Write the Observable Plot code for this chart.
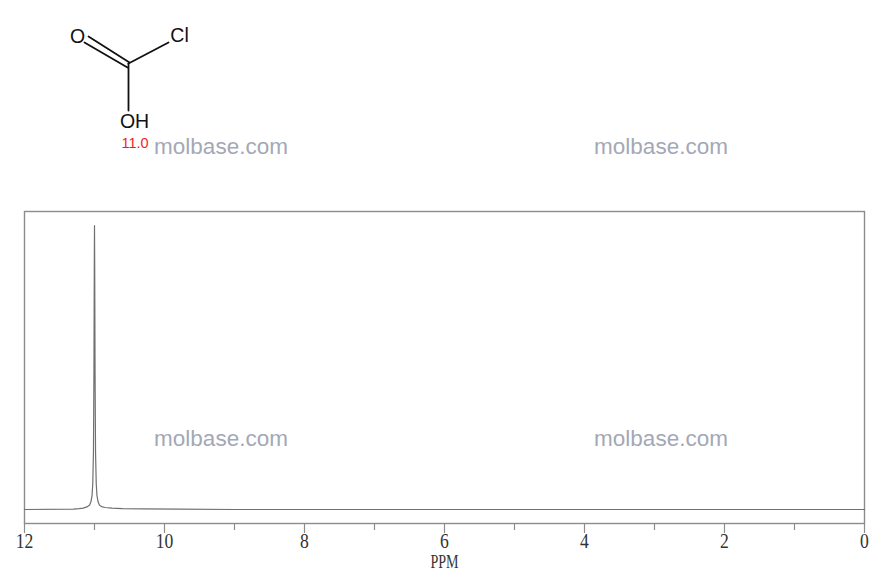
<!DOCTYPE html>
<html><head><meta charset="utf-8">
<script src="https://cdn.jsdelivr.net/npm/d3@7"></script>
<script src="https://cdn.jsdelivr.net/npm/@observablehq/plot@0.6"></script>
<style>
html,body{margin:0;padding:0;background:#fff}
#wrap{position:relative;width:880px;height:583px;overflow:hidden}
#wrap svg{position:absolute;left:0;top:0;background:transparent}
</style></head><body><div id="wrap"></div>
<script>
// Spectrum (ppm, relative intensity)
const ppm =       [12, 11.3, 11.22, 11.16, 11.1, 11.07, 11.05, 11.035, 11.025, 11.015, 11.008, 11.003, 11, 10.997, 10.992, 10.985, 10.975, 10.965, 10.95, 10.93, 10.9, 10.85, 10.75, 10.6, 10.3, 9.8, 9, 0];
const intensity = [0,  0.1,  0.3,   0.5,   1,    1.6,   2.8,   5,      9,      20,     48,     85,     100, 85,   48,     20,     9,      5,      2.8,  1.6,   1,    0.7,   0.5,   0.3,  0.2,  0.1, 0, 0];
const spectrum = ppm.map((p, i) => ({p, v: intensity[i]}));
const majorTicks = [12, 10, 8, 6, 4, 2, 0];
const minorTicks = [11, 9, 7, 5, 3, 1];
const axisColor = "#8c8c8c";
const yBottom = -4.93;

// Narrows the serif glyphs around their anchor, as in the reference's condensed face
const condensed = k => (index, scales, values, dims, ctx, next) => {
  const g = next(index, scales, values, dims, ctx);
  g.querySelectorAll("text").forEach(t => {
    const tr = t.getAttribute("transform") || "";
    t.setAttribute("transform", tr + ` scale(${k},1)`);
  });
  return g;
};

const main = Plot.plot({
  width: 880, height: 583,
  marginLeft: 24, marginRight: 16, marginTop: 211, marginBottom: 60,
  style: {background: "transparent"},
  x: {domain: [12, 0], label: null, axis: null},
  y: {domain: [yBottom, 104.93], axis: null},
  marks: [
    Plot.frame({stroke: axisColor, strokeWidth: 1.4}),
    Plot.line(spectrum, {x: "p", y: "v", stroke: "#707070", strokeWidth: 1.2, curve: "linear"}),
    Plot.ruleX(majorTicks, {x: d => d, y1: yBottom, y2: -8.45, stroke: axisColor, strokeWidth: 1.2, clip: false}),
    Plot.ruleX(minorTicks, {x: d => d, y1: yBottom, y2: -7.4, stroke: axisColor, strokeWidth: 1.2, clip: false}),
    Plot.text(majorTicks, {x: d => d, frameAnchor: "bottom", dy: 24, text: d => String(d), fontFamily: "Liberation Serif", fontSize: 21, fill: "#333", render: condensed(0.84)}),
    Plot.text(["PPM"], {x: [6], frameAnchor: "bottom", dy: 44, text: d => d, fontFamily: "Liberation Serif", fontSize: 19, fill: "#333", render: condensed(0.74)})
  ]
});
document.getElementById("wrap").append(main);

// Structure and watermarks, in page units
const bonds = [
  {id: "C=O a", x: [129, 88], y: [62, 36]},
  {id: "C=O b", x: [127, 84], y: [67, 42]},
  {id: "C-Cl", x: [128, 168], y: [63, 42]},
  {id: "C-OH", x: [128, 128], y: [63, 110]}
];
const atoms = [{t: "O", x: 77, y: 36}, {t: "Cl", x: 179, y: 35}, {t: "OH", x: 134, y: 121}];
const shifts = [{t: "11.0", x: 134.5, y: 143}];
const marks = [{x: 220.5, y: 146}, {x: 660.5, y: 146}, {x: 220.5, y: 438}, {x: 660.5, y: 438}];

const overlay = Plot.plot({
  width: 880, height: 583, margin: 0,
  style: {background: "transparent"},
  x: {domain: [0, 880], range: [0, 880], axis: null},
  y: {domain: [0, 583], range: [0, 583], axis: null},
  marks: [
    ...bonds.map(b => Plot.line(b.x.map((x, i) => ({x, y: b.y[i]})), {x: "x", y: "y", stroke: "#111", strokeWidth: 1.8})),
    Plot.text(atoms, {x: "x", y: "y", text: "t", fontFamily: "Liberation Sans", fontSize: 19.5, fill: "#111"}),
    Plot.text(shifts, {x: "x", y: "y", text: "t", fontFamily: "Liberation Sans", fontSize: 14.5, fill: "#f01c24"}),
    Plot.text(marks, {x: "x", y: "y", text: () => "molbase.com", fontFamily: "Liberation Sans", fontSize: 22.5, fill: "#a4a8b6"})
  ]
});
document.getElementById("wrap").append(overlay);
</script></body></html>
